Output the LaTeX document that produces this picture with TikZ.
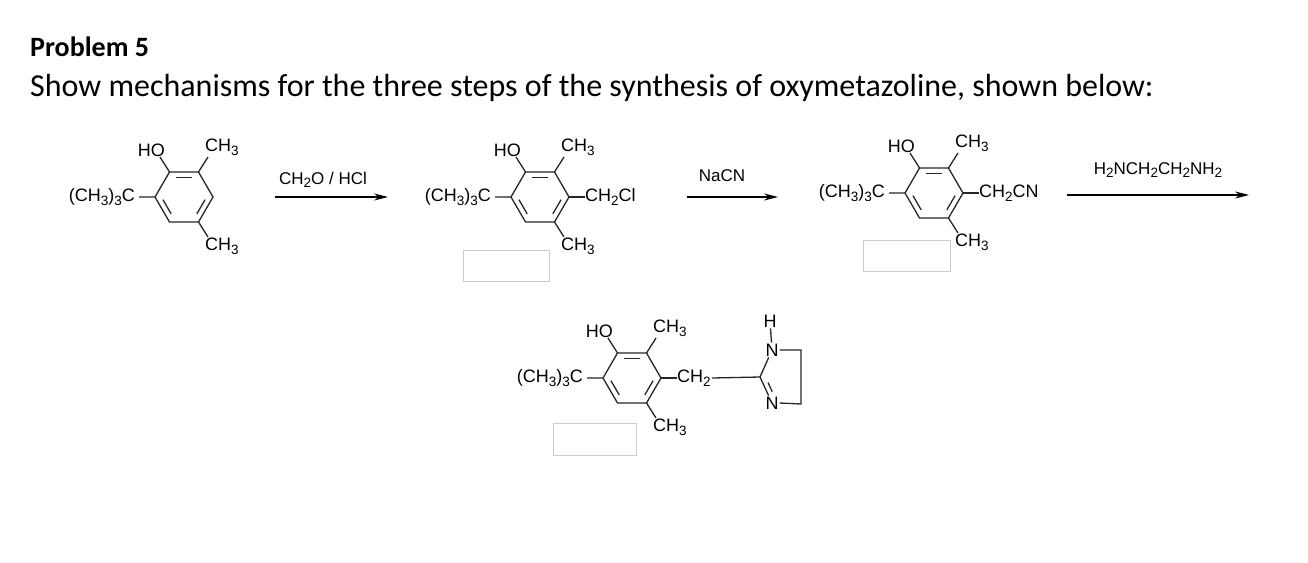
\documentclass[tikz,border=0pt]{standalone}
\usepackage{fontspec}
\setmainfont{Liberation Sans}
\newfontfamily\calfont{Carlito}
\usetikzlibrary{calc,arrows.meta}
\newcommand\sbs[1]{\raisebox{-0.4ex}{\fontsize{13.5}{13.5}\selectfont #1}}
\newcommand\molring[3]{%
  \coordinate (#1c) at (#2,#3);
  \coordinate (#1a) at ($(#1c)+(-14.5,-25)$);
  \coordinate (#1b) at ($(#1c)+(14.5,-25)$);
  \coordinate (#1r) at ($(#1c)+(29,0)$);
  \coordinate (#1d) at ($(#1c)+(14.5,25)$);
  \coordinate (#1e) at ($(#1c)+(-14.5,25)$);
  \coordinate (#1l) at ($(#1c)+(-29,0)$);
  \draw[bond] (#1a)--(#1b)--(#1r)--(#1d)--(#1e)--(#1l)--cycle;
  \draw[bond,shorten <=3pt,shorten >=3pt] ($(#1c)!0.78!(#1a)$)--($(#1c)!0.78!(#1b)$);
  \draw[bond,shorten <=3pt,shorten >=3pt] ($(#1c)!0.78!(#1r)$)--($(#1c)!0.78!(#1d)$);
  \draw[bond,shorten <=3pt,shorten >=3pt] ($(#1c)!0.78!(#1e)$)--($(#1c)!0.78!(#1l)$);
  \coordinate (#1ho) at ($(#1c)+(-24,-40)$);
  \coordinate (#1me) at ($(#1c)+(24,-40)$);
  \coordinate (#1bt) at ($(#1c)+(24,40)$);
  \coordinate (#1lt) at ($(#1c)+(-45,0)$);
  \coordinate (#1rt) at ($(#1c)+(45,0)$);
  \draw[bond] (#1a)--(#1ho) (#1b)--(#1me) (#1d)--(#1bt) (#1l)--(#1lt);
  \node[chem,anchor=south east] (#1HO) at ($(#1ho)+(6,1)$) {HO};
  \node[chem,anchor=south west] (#1ME) at ($(#1me)+(-4,0)$) {CH\sbs{3}};
  \node[chem,anchor=east] (#1TB) at ($(#1lt)+(-3,0)$) {(CH\sbs{3})\sbs{3}C};
}
\begin{document}
\begin{tikzpicture}[x=1pt,y=-1pt,
  bond/.style={line width=1.3pt,black!85},
  chem/.style={font=\fontsize{18}{18}\selectfont,inner sep=1pt},
  rxn/.style={line width=1.2pt,-{Stealth[length=14pt,width=7pt]}},
  blank/.style={draw=black!20,line width=0.8pt,fill=white}]
\useasboundingbox (0,0) rectangle (1308,562);
\node[anchor=base west,font=\calfont\bfseries\fontsize{28}{28}\selectfont,inner sep=0] (title) at (30,56) {Problem 5};
\node[anchor=base west,font=\calfont\fontsize{32}{32}\selectfont,inner sep=0] (sub) at (30,96) {Show mechanisms for the three steps of the synthesis of oxymetazoline, shown below:};
% molecule 1
\molring{A}{184}{197}
\node[chem,anchor=north west] (AB) at ($(Abt)+(-4,0)$) {CH\sbs{3}};
% arrow 1
\coordinate (a1s) at (275,197); \coordinate (a1e) at (388,197);
\draw[rxn] (a1s)--(a1e);
\node[chem,font=\fontsize{17}{17}\selectfont] (l1) at (323,180) {CH\sbs{2}O / HCl};
% molecule 2
\molring{B}{540}{197}
\draw[bond] (Br)--(Brt);
\node[chem,anchor=west] (BR) at ($(Brt)+(-1,0)$) {CH\sbs{2}Cl};
\node[chem,anchor=north west] (BB) at ($(Bbt)+(-4,0)$) {CH\sbs{3}};
\node[blank,minimum width=86pt,minimum height=31pt,anchor=north west] (box1) at (463,250) {};
% arrow 2
\coordinate (a2s) at (687,197); \coordinate (a2e) at (778,197);
\draw[rxn] (a2s)--(a2e);
\node[chem,font=\fontsize{17}{17}\selectfont] (l2) at (722,176) {NaCN};
% molecule 3
\molring{C}{934}{193}
\draw[bond] (Cr)--(Crt);
\node[chem,anchor=west] (CR) at ($(Crt)+(-1,0)$) {CH\sbs{2}CN};
\node[chem,anchor=north west] (CB) at ($(Cbt)+(-4,0)$) {CH\sbs{3}};
\node[blank,minimum width=87pt,minimum height=31pt,anchor=north west] (box2) at (863,240) {};
% arrow 3
\coordinate (a3s) at (1067,195); \coordinate (a3e) at (1249,195);
\draw[rxn] (a3s)--(a3e);
\node[chem,font=\fontsize{17}{17}\selectfont] (l3) at (1158,170) {H\sbs{2}NCH\sbs{2}CH\sbs{2}NH\sbs{2}};
% molecule 4
\molring{D}{632}{378}
\draw[bond] (Dr)--(Drt);
\node[chem,anchor=west] (DR) at ($(Drt)+(-1,0)$) {CH\sbs{2}};
\node[chem,anchor=north west] (DB) at ($(Dbt)+(-4,0)$) {CH\sbs{3}};
\node[blank,minimum width=83pt,minimum height=32pt,anchor=north west] (box3) at (553,423) {};
% imidazoline
\coordinate (ic) at (760,377);
\node[chem] (N1) at (772,350) {N};
\node[chem] (H1) at (770,321) {H};
\node[chem] (N2) at (772,403) {N};
\coordinate (r1) at (801,350);
\coordinate (r2) at (801,404);
\draw[bond] (DR.east)--(ic);
\draw[bond] (ic)--(N1);
\draw[bond] (ic)--(N2);
\draw[bond] ($(ic)!0.25!(N2.center)+(5,-1)$)--($(ic)!0.6!(N2.center)+(5,-1)$);
\draw[bond] (H1)--(N1);
\draw[bond] (N1.east)--(r1)--(r2)--(N2.east);
\end{tikzpicture}
\end{document}
